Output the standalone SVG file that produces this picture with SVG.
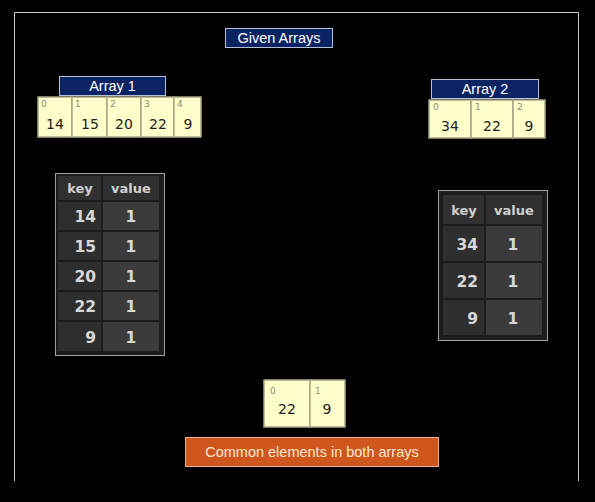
<svg xmlns="http://www.w3.org/2000/svg" width="595" height="502" viewBox="0 0 595 502">
<style>
.title{fill:#0b2362;stroke:#b8c0d8;stroke-width:1}
.tt{font-family:"Liberation Sans",Arial,sans-serif;font-size:14.5px;fill:#ffffff;text-anchor:middle}
.cell{fill:#ffffcc;stroke:#a8a488;stroke-width:1.5}
.idx{font-family:"DejaVu Sans",Verdana,sans-serif;font-size:9px;fill:#8a8a80}
.val{font-family:"DejaVu Sans",Verdana,sans-serif;font-size:14px;fill:#222222;text-anchor:middle}
.tbl{fill:#1c1c1c;stroke:#a0a0a0;stroke-width:1}
.hd{fill:#303030}
.kc{fill:#2e2e2e}
.vc{fill:#3b3b3b}
.ht{font-family:"DejaVu Sans",Verdana,sans-serif;font-size:13px;font-weight:bold;fill:#d0d0d0;text-anchor:middle}
.kt{font-family:"DejaVu Sans",Verdana,sans-serif;font-size:15.5px;font-weight:bold;fill:#d8d8d8;text-anchor:end}
.vt{font-family:"DejaVu Sans",Verdana,sans-serif;font-size:15.5px;font-weight:bold;fill:#d8d8d8;text-anchor:middle}
</style>
<rect width="595" height="502" fill="#000"/>
<g id="frame" fill="none" stroke="#c8c8c8" stroke-width="1">
<path d="M14.5 481V12.5H578.5V481"/>
</g>
<g id="given-arrays">
<rect class="title" x="225.5" y="28.5" width="107" height="19"/>
<text class="tt" x="279" y="43">Given Arrays</text>
</g>
<g id="array1-title">
<rect class="title" x="59.5" y="76.5" width="106" height="19"/>
<text class="tt" x="112.5" y="91">Array 1</text>
</g>
<g id="array1">
<rect class="cell" x="38" y="97" width="34" height="40"/>
<rect class="cell" x="72" y="97" width="35" height="40"/>
<rect class="cell" x="107" y="97" width="34" height="40"/>
<rect class="cell" x="141" y="97" width="33" height="40"/>
<rect class="cell" x="174" y="97" width="27" height="40"/>
<text class="idx" x="41" y="107">0</text>
<text class="idx" x="75" y="107">1</text>
<text class="idx" x="110" y="107">2</text>
<text class="idx" x="144" y="107">3</text>
<text class="idx" x="177" y="107">4</text>
<text class="val" x="55" y="129">14</text>
<text class="val" x="90" y="129">15</text>
<text class="val" x="124" y="129">20</text>
<text class="val" x="158" y="129">22</text>
<text class="val" x="188" y="129">9</text>
</g>
<g id="array2-title">
<rect class="title" x="431.5" y="79.5" width="107" height="19"/>
<text class="tt" x="485" y="94">Array 2</text>
</g>
<g id="array2">
<rect class="cell" x="429" y="100" width="42" height="38"/>
<rect class="cell" x="471" y="100" width="42" height="38"/>
<rect class="cell" x="513" y="100" width="32" height="38"/>
<text class="idx" x="433" y="110">0</text>
<text class="idx" x="475" y="110">1</text>
<text class="idx" x="517" y="110">2</text>
<text class="val" x="450" y="131">34</text>
<text class="val" x="492" y="131">22</text>
<text class="val" x="529" y="131">9</text>
</g>
<g id="map1">
<rect class="tbl" x="55.5" y="173.5" width="109" height="182"/>
<rect class="hd" x="58" y="176" width="43" height="24"/>
<rect class="hd" x="103" y="176" width="56" height="24"/>
<text class="ht" x="80" y="193">key</text>
<text class="ht" x="131" y="193">value</text>
<rect class="kc" x="58" y="202" width="43" height="28"/>
<rect class="vc" x="103" y="202" width="56" height="28"/>
<rect class="kc" x="58" y="232" width="43" height="28"/>
<rect class="vc" x="103" y="232" width="56" height="28"/>
<rect class="kc" x="58" y="262" width="43" height="28"/>
<rect class="vc" x="103" y="262" width="56" height="28"/>
<rect class="kc" x="58" y="292" width="43" height="28"/>
<rect class="vc" x="103" y="292" width="56" height="28"/>
<rect class="kc" x="58" y="322" width="43" height="29"/>
<rect class="vc" x="103" y="322" width="56" height="29"/>
<text class="kt" x="96" y="222">14</text>
<text class="vt" x="131" y="222">1</text>
<text class="kt" x="96" y="252">15</text>
<text class="vt" x="131" y="252">1</text>
<text class="kt" x="96" y="282">20</text>
<text class="vt" x="131" y="282">1</text>
<text class="kt" x="96" y="312">22</text>
<text class="vt" x="131" y="312">1</text>
<text class="kt" x="96" y="343">9</text>
<text class="vt" x="131" y="343">1</text>
</g>
<g id="map2">
<rect class="tbl" x="438.5" y="190.5" width="109" height="150"/>
<rect class="hd" x="443" y="195" width="41" height="29"/>
<rect class="hd" x="486" y="195" width="56" height="29"/>
<text class="ht" x="464" y="215">key</text>
<text class="ht" x="514" y="215">value</text>
<rect class="kc" x="443" y="226" width="41" height="35"/>
<rect class="vc" x="486" y="226" width="56" height="35"/>
<rect class="kc" x="443" y="263" width="41" height="35"/>
<rect class="vc" x="486" y="263" width="56" height="35"/>
<rect class="kc" x="443" y="300" width="41" height="35"/>
<rect class="vc" x="486" y="300" width="56" height="35"/>
<text class="kt" x="478" y="250">34</text>
<text class="vt" x="513" y="250">1</text>
<text class="kt" x="478" y="287">22</text>
<text class="vt" x="513" y="287">1</text>
<text class="kt" x="478" y="324">9</text>
<text class="vt" x="513" y="324">1</text>
</g>
<g id="common">
<rect class="cell" x="264" y="380" width="46" height="47"/>
<rect class="cell" x="310" y="380" width="35" height="47"/>
<text class="idx" x="270" y="394">0</text>
<text class="idx" x="315" y="394">1</text>
<text class="val" x="287" y="414">22</text>
<text class="val" x="327" y="414">9</text>
</g>
<g id="common-label">
<rect x="185.5" y="437.5" width="253" height="29" fill="#cf561c" stroke="#e8b090" stroke-width="1"/>
<text class="tt" x="312" y="457" style="fill:#fbe6cc">Common elements in both arrays</text>
</g>
<g id="connectors"></g>
</svg>
